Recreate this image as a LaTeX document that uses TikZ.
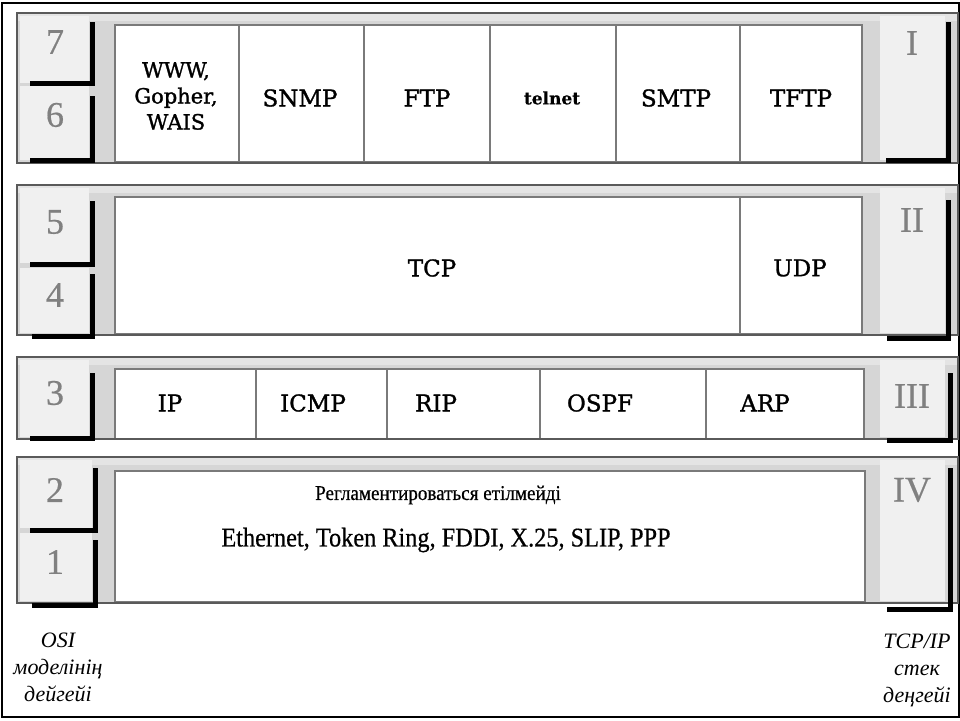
\documentclass[tikz,border=0pt]{standalone}
\usepackage{fontspec}
\setmainfont{Liberation Serif}
\newfontfamily\slab[FakeBold=1.3]{DejaVu Serif}
\newfontfamily\slabb[FakeBold=0.6]{DejaVu Serif}
\newfontfamily\heavyserif[FakeBold=0.6]{Liberation Serif}
\newfontfamily\numserif[FakeBold=0.5]{Liberation Serif}
\definecolor{panelbd}{HTML}{5A5A5A}
\definecolor{panelbg}{HTML}{D6D6D6}
\definecolor{bandbg}{HTML}{E4E4E4}
\definecolor{cellbg}{HTML}{F0F0F0}
\definecolor{boxbd}{HTML}{7A7A7A}
\definecolor{numgray}{HTML}{808080}
\tikzset{
  panelframe/.style={draw=panelbd, line width=2pt},
  pbox/.style={draw=boxbd, line width=1.5pt, fill=white, inner sep=0pt, anchor=center},
  boxtext/.style={font=\slab\fontsize{23}{26}\selectfont, text=black, align=center, inner sep=0pt},
  smalltext/.style={font=\slabb\bfseries\fontsize{17}{20}\selectfont, text=black, inner sep=0pt},
  numtext/.style={font=\numserif\fontsize{36}{36}\selectfont, text=numgray, inner sep=0pt},
  blackL/.style={line width=5pt, black},
  captext/.style={font=\itshape\fontsize{22}{27}\selectfont, align=center, inner sep=0pt},
  mainline/.style={font=\heavyserif\fontsize{21}{24}\selectfont, inner sep=0pt},
  ethline/.style={font=\heavyserif\fontsize{27}{30}\selectfont, inner sep=0pt}
}
\begin{document}
\begin{tikzpicture}[x=1pt,y=-1pt]
\useasboundingbox (0,0) rectangle (960,720);
\fill[white] (0,0) rectangle (960,720);
\draw[black, line width=1.5pt] (2,3) rectangle (959,717);

% ---------- panel backgrounds ----------
\foreach \ya/\yb in {13/163, 185/335, 357/439, 457/603}{
  \fill[panelbg] (17,\ya) rectangle (958,\yb);
  \fill[bandbg] (17,\ya) rectangle (958,\ya+8);
}

% ---------- left and right cells ----------
\fill[cellbg] (20,16) rectangle (89,83);
\fill[cellbg] (20,86) rectangle (89,160);
\fill[cellbg] (20,188) rectangle (89,263);
\fill[cellbg] (20,268) rectangle (89,333);
\fill[cellbg] (20,360) rectangle (89,437);
\fill[cellbg] (20,460) rectangle (92,528);
\fill[cellbg] (20,533) rectangle (92,601);
\fill[cellbg] (880,16) rectangle (945,160);
\fill[cellbg] (880,188) rectangle (945,333);
\fill[cellbg] (880,360) rectangle (945,437);
\fill[cellbg] (880,460) rectangle (945,601);

% ---------- panel 1 ----------
\node[pbox, minimum width=124pt, minimum height=137pt] (www) at (177,93.5) {};
\node[pbox, minimum width=125pt, minimum height=137pt] (snmp) at (301.5,93.5) {};
\node[pbox, minimum width=126pt, minimum height=137pt] (ftp) at (427,93.5) {};
\node[pbox, minimum width=126pt, minimum height=137pt] (telnet) at (553,93.5) {};
\node[pbox, minimum width=124pt, minimum height=137pt] (smtp) at (678,93.5) {};
\node[pbox, minimum width=122pt, minimum height=137pt] (tftp) at (801,93.5) {};
\node[boxtext, font=\slab\fontsize{21}{26}\selectfont] (twww) at (176,96) {WWW,\\Gopher,\\WAIS};
\node[boxtext] (tsnmp) at (300,98) {SNMP};
\node[boxtext] (tftpl) at (427,98) {FTP};
\node[smalltext] (ttel) at (552,98) {telnet};
\node[boxtext] (tsmtp) at (676,98) {SMTP};
\node[boxtext] (ttftp) at (801,98) {TFTP};

% ---------- panel 2 ----------
\node[pbox, minimum width=625pt, minimum height=137pt] (tcp) at (427.5,265.5) {};
\node[pbox, minimum width=122pt, minimum height=137pt] (udp) at (801,265.5) {};
\node[boxtext] (ttcp) at (432,268) {TCP};
\node[boxtext] (tudp) at (800,268) {UDP};

% ---------- panel 3 ----------
\node[pbox, minimum width=141pt, minimum height=70pt] (ip) at (185.5,404) {};
\node[pbox, minimum width=131pt, minimum height=70pt] (icmp) at (321.5,404) {};
\node[pbox, minimum width=153pt, minimum height=70pt] (rip) at (463.5,404) {};
\node[pbox, minimum width=166pt, minimum height=70pt] (ospf) at (623,404) {};
\node[pbox, minimum width=158pt, minimum height=70pt] (arp) at (785,404) {};
\node[boxtext] (tip) at (170,403) {IP};
\node[boxtext] (ticmp) at (313,403) {ICMP};
\node[boxtext] (trip) at (436,403) {RIP};
\node[boxtext] (tospf) at (600,403) {OSPF};
\node[boxtext] (tarp) at (765,403) {ARP};

% ---------- panel 4 ----------
\node[pbox, minimum width=750pt, minimum height=131pt] (phys) at (490,536.5) {};
\node[mainline] (treg) at (438,495) {\scalebox{0.91}[1]{Регламентироваться етілмейді}};
\node[ethline] (teth) at (446,540) {\scalebox{0.9}[1]{Ethernet, Token Ring, FDDI, X.25, SLIP, PPP}};

% ---------- panel frames ----------
\foreach \ya/\yb in {13/163, 185/335, 357/439, 457/603}{
  \draw[panelframe] (17,\ya) rectangle (958,\yb);
}

% ---------- black L marks ----------
\draw[blackL] (92,22) -- (92,83) -- (30,83);
\draw[blackL] (92,96) -- (92,160) -- (30,160);
\draw[blackL] (92,201) -- (92,264) -- (30,264);
\draw[blackL] (92,274) -- (92,336) -- (32,336);
\draw[blackL] (92,373) -- (92,438) -- (30,438);
\draw[blackL] (95,468) -- (95,530) -- (30,530);
\draw[blackL] (95,540) -- (95,605) -- (32,605);
\draw[blackL] (948,22) -- (948,160) -- (886,160);
\draw[blackL] (948,200) -- (948,338) -- (887,338);
\draw[blackL] (950,373) -- (950,440) -- (887,440);
\draw[blackL] (950,468) -- (950,609) -- (887,609);

% ---------- level numbers ----------
\node[numtext] (n7) at (55,42) {7};
\node[numtext] (n6) at (55,115) {6};
\node[numtext] (n5) at (55,222) {5};
\node[numtext] (n4) at (55,295) {4};
\node[numtext] (n3) at (55,393) {3};
\node[numtext] (n2) at (55,490) {2};
\node[numtext] (n1) at (55,562) {1};
\node[numtext] (r1) at (912,43) {I};
\node[numtext] (r2) at (912,220) {II};
\node[numtext] (r3) at (912,396) {III};
\node[numtext] (r4) at (912,490) {IV};

% ---------- captions ----------
\node[captext] (osi) at (58,667) {OSI\\моделінің\\дейгейі};
\node[captext] (tcpip) at (917,670) {TCP/IP\\стек\\деңгейі};
\end{tikzpicture}
\end{document}
